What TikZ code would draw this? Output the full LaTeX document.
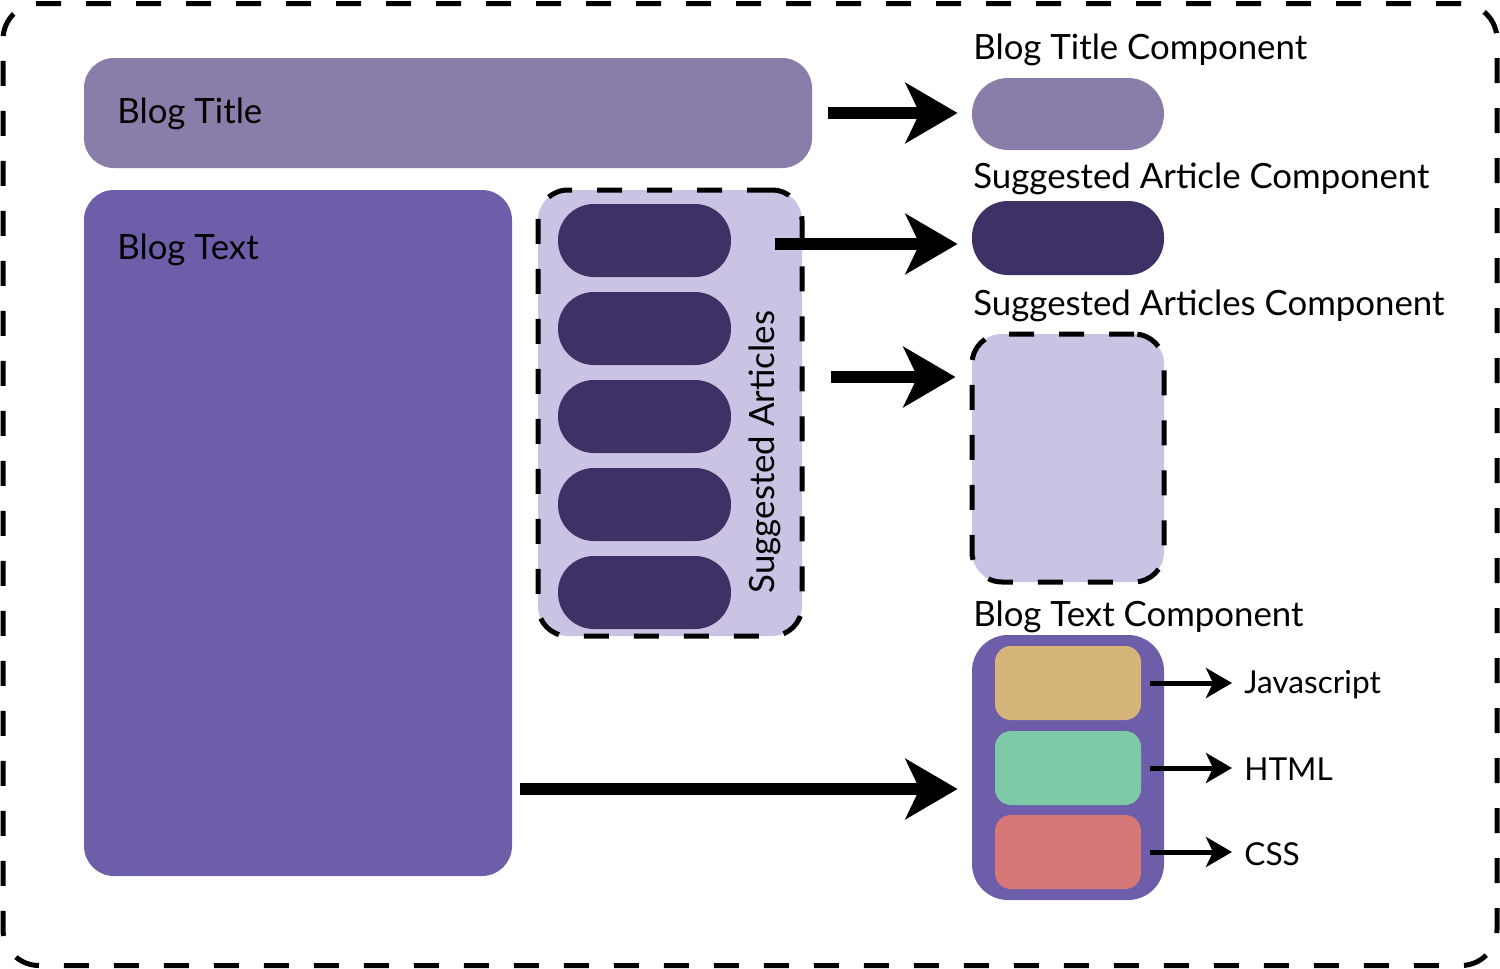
\documentclass[tikz,border=0pt]{standalone}
\usepackage{fontspec}
\setmainfont{Lato}
\usetikzlibrary{arrows.meta}
\definecolor{titlec}{HTML}{8B7DAA}
\definecolor{textc}{HTML}{6E5EAA}
\definecolor{sac}{HTML}{CBC3E3}
\definecolor{pillc}{HTML}{3F3066}
\definecolor{jsc}{HTML}{D6B57A}
\definecolor{htmlc}{HTML}{7EC9A8}
\definecolor{cssc}{HTML}{D67878}
\tikzset{
  box/.style={rectangle, draw=none, inner sep=0pt},
  dashbox/.style={rectangle, draw=black, line width=2.5pt, dash pattern=on 12.5pt off 12.5pt, inner sep=0pt},
  bigarrow/.style={line width=6pt, -{Stealth[length=26pt, width=30pt, inset=7pt]}},
  smallarrow/.style={line width=2.5pt, -{Stealth[length=13pt, width=15pt, inset=3.5pt]}},
  bigtxt/.style={font=\fontsize{17.4}{21}\selectfont, inner sep=0pt},
  smalltxt/.style={font=\fontsize{15.8}{19}\selectfont, inner sep=0pt},
}
\begin{document}
\begin{tikzpicture}[x=0.5pt, y=-0.5pt]
\useasboundingbox (0,0) rectangle (1500,969);
% outer frame
\node[dashbox, rounded corners=18pt, minimum width=747pt, minimum height=481pt] (frame) at (750,484.5) {};
% blog title
\node[box, fill=titlec, rounded corners=15pt, minimum width=364pt, minimum height=55pt] (title) at (448,113) {};
\node[bigtxt, anchor=base west] (titletxt) at (117,123) {Blog Title};
% blog text
\node[box, fill=textc, rounded corners=15pt, minimum width=214pt, minimum height=343pt] (btext) at (298,533) {};
\node[bigtxt, anchor=base west] (btexttxt) at (117,259) {Blog Text};
% suggested articles container
\node[dashbox, fill=sac, rounded corners=15pt, minimum width=132pt, minimum height=223pt] (sa) at (670,413) {};
\foreach \i/\y in {1/240.5,2/328.5,3/416.5,4/504.5,5/592.5}{
  \node[box, fill=pillc, rounded corners=18pt, minimum width=86.5pt, minimum height=36.5pt] (p\i) at (644.5,\y) {};
}
\node[bigtxt, rotate=90] (satxt) at (765,452) {Suggested Articles};
% right side components
\node[bigtxt, anchor=base west] (l1) at (973,59) {Blog Title Component};
\node[box, fill=titlec, rounded corners=18pt, minimum width=96pt, minimum height=36pt] (c1) at (1068,114) {};
\node[bigtxt, anchor=base west] (l2) at (973,188) {Suggested Article Component};
\node[box, fill=pillc, rounded corners=18pt, minimum width=96pt, minimum height=37pt] (c2) at (1068,238) {};
\node[bigtxt, anchor=base west] (l3) at (973,315) {Suggested Articles Component};
\node[dashbox, fill=sac, rounded corners=15pt, minimum width=96pt, minimum height=124pt] (c3) at (1068,458) {};
\node[bigtxt, anchor=base west] (l4) at (973,626) {Blog Text Component};
\node[box, fill=textc, rounded corners=18pt, minimum width=96pt, minimum height=132.5pt] (c4) at (1068,767.5) {};
\node[box, fill=jsc, rounded corners=8pt, minimum width=73pt, minimum height=37pt] (js) at (1068,683) {};
\node[box, fill=htmlc, rounded corners=8pt, minimum width=73pt, minimum height=37pt] (html) at (1068,768) {};
\node[box, fill=cssc, rounded corners=8pt, minimum width=73pt, minimum height=37pt] (css) at (1068,852) {};
\node[smalltxt, anchor=base west] (jst) at (1244,693) {Javascript};
\node[smalltxt, anchor=base west] (htmlt) at (1244,780) {HTML};
\node[smalltxt, anchor=base west] (csst) at (1244,865) {CSS};
% arrows
\draw[bigarrow, shorten <=8pt, shorten >=7pt] (title.east) -- (c1.west |- title.east);
\coordinate (a2) at (0,244);
\draw[bigarrow, shorten <=-15pt, shorten >=7pt] (sa.east |- a2) -- (c2.west |- a2);
\coordinate (a3) at (0,377);
\draw[bigarrow, shorten <=13pt, shorten >=7pt] (sa.east |- a3) -- (c3.west |- a3);
\coordinate (a4) at (0,789);
\draw[bigarrow, shorten <=4pt, shorten >=7pt] (btext.east |- a4) -- (c4.west |- a4);
\draw[smallarrow, shorten <=4.5pt, shorten >=6pt] (js.east) -- (jst.west |- js.east);
\draw[smallarrow, shorten <=4.5pt, shorten >=6pt] (html.east) -- (htmlt.west |- html.east);
\draw[smallarrow, shorten <=4.5pt, shorten >=6pt] (css.east) -- (csst.west |- css.east);
\end{tikzpicture}
\end{document}
